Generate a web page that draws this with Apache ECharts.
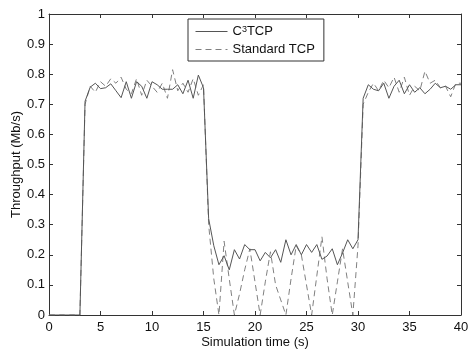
<!DOCTYPE html>
<html>
<head>
<meta charset="utf-8">
<script src="https://cdn.jsdelivr.net/npm/echarts@6/dist/echarts.min.js"></script>
<style>
html,body{margin:0;padding:0;background:#fff;}
#chart{width:474px;height:355px;}
</style>
</head>
<body>
<div id="chart"></div>
<script>
var times = [0,0.5,1,1.5,2,2.5,3,3.5,4,4.5,5,5.5,6,6.5,7,7.5,8,8.5,9,9.5,10,10.5,11,11.5,12,12.5,13,13.5,14,14.5,15,15.5,16,16.5,17,17.5,18,18.5,19,19.5,20,20.5,21,21.5,22,22.5,23,23.5,24,24.5,25,25.5,26,26.5,27,27.5,28,28.5,29,29.5,30,30.5,31,31.5,32,32.5,33,33.5,34,34.5,35,35.5,36,36.5,37,37.5,38,38.5,39,39.5,40];

var c3tcp = [0,0,0,0,0,0,0,0.71,0.757,0.77,0.752,0.755,0.768,0.745,0.722,0.775,0.72,0.775,0.76,0.72,0.775,0.765,0.75,0.75,0.75,0.765,0.735,0.78,0.72,0.797,0.755,0.32,0.23,0.167,0.197,0.15,0.217,0.186,0.234,0.217,0.217,0.18,0.208,0.19,0.217,0.175,0.25,0.2,0.234,0.2,0.234,0.208,0.234,0.185,0.196,0.22,0.167,0.206,0.25,0.22,0.25,0.72,0.765,0.75,0.745,0.77,0.72,0.76,0.78,0.735,0.765,0.74,0.755,0.735,0.75,0.77,0.755,0.76,0.75,0.765,0.765];

var standardTcp = [0,0,0,0,0,0,0,0.7,0.76,0.74,0.775,0.76,0.785,0.77,0.79,0.75,0.735,0.785,0.73,0.78,0.76,0.74,0.77,0.72,0.815,0.745,0.77,0.74,0.785,0.73,0.765,0.3,0.12,0,0.245,0.12,0,0.07,0.15,0.22,0.11,0,0.11,0.21,0.1,0.05,0,0.12,0.23,0.2,0.1,0,0.13,0.26,0.12,0,0.11,0.22,0.11,0,0.23,0.7,0.74,0.77,0.745,0.78,0.755,0.79,0.74,0.79,0.73,0.76,0.745,0.81,0.77,0.78,0.755,0.76,0.725,0.77,0.77];

var xTicks = [0,5,10,15,20,25,30,35,40];
var yTicks = [0,0.1,0.2,0.3,0.4,0.5,0.6,0.7,0.8,0.9,1];

function pairs(xs, ys){ return xs.map(function(x,i){ return [x, ys[i]]; }); }

var axisColor = '#333';
var fontFam = '"Liberation Sans", Arial, sans-serif';

var chart = echarts.init(document.getElementById('chart'), null, {renderer:'canvas'});
chart.setOption({
  animation:false,
  backgroundColor:'#fff',
  textStyle:{fontFamily:fontFam},
  grid:{left:49,right:13,top:14,bottom:40,containLabel:false,outerBoundsMode:'none'},
  legend:{
    show:true,
    orient:'vertical',
    left:188, top:19,
    backgroundColor:'#fff',
    borderColor:'#333', borderWidth:1,
    padding:[6,9,5,7],
    itemWidth:32, itemHeight:14, itemGap:5,
    itemStyle:{opacity:0},
    lineStyle:{width:1},
    textStyle:{fontSize:13,color:'#111',fontFamily:fontFam,
      rich:{sup:{fontSize:9,verticalAlign:'top',color:'#111',fontFamily:fontFam}}},
    formatter:function(name){ return name.replace('³','{sup|3}'); }
  },
  xAxis:[{
    type:'value', min:xTicks[0], max:xTicks[xTicks.length-1], interval:5,
    name:'Simulation time (s)', nameLocation:'middle', nameGap:21, nameMoveOverlap:false,
    nameTextStyle:{fontSize:13,color:'#111',fontFamily:fontFam},
    axisLine:{show:true,lineStyle:{color:axisColor,width:1}},
    axisTick:{show:true,inside:true,length:4,lineStyle:{color:axisColor}},
    axisLabel:{fontSize:13,color:'#111',margin:6,fontFamily:fontFam},
    splitLine:{show:false}
  },{
    type:'value', position:'top', min:0, max:40, interval:5,
    axisLine:{show:true,onZero:false,lineStyle:{color:axisColor,width:1}},
    axisTick:{show:true,inside:true,length:4,lineStyle:{color:axisColor}},
    axisLabel:{show:false}, splitLine:{show:false}
  }],
  yAxis:[{
    type:'value', min:yTicks[0], max:yTicks[yTicks.length-1], interval:0.1,
    name:'Throughput (Mb/s)', nameLocation:'middle', nameGap:26, nameMoveOverlap:false,
    nameTextStyle:{fontSize:13,color:'#111',fontFamily:fontFam},
    axisLine:{show:true,lineStyle:{color:axisColor,width:1}},
    axisTick:{show:true,inside:true,length:4,lineStyle:{color:axisColor}},
    axisLabel:{fontSize:13,color:'#111',margin:4,fontFamily:fontFam,
      formatter:function(v){ return String(Math.round(v*10)/10); }},
    splitLine:{show:false}
  },{
    type:'value', position:'right', min:0, max:1, interval:0.1,
    axisLine:{show:true,onZero:false,lineStyle:{color:axisColor,width:1}},
    axisTick:{show:true,inside:true,length:4,lineStyle:{color:axisColor}},
    axisLabel:{show:false}, splitLine:{show:false}
  }],
  series:[{
    name:'C³TCP', type:'line', xAxisIndex:0, yAxisIndex:0,
    data:pairs(times,c3tcp), symbol:'none', z:3,
    lineStyle:{color:'#555',width:1,type:'solid'}, itemStyle:{color:'#555'}
  },{
    name:'Standard TCP', type:'line', xAxisIndex:0, yAxisIndex:0,
    data:pairs(times,standardTcp), symbol:'none', z:2,
    lineStyle:{color:'#808080',width:1,type:[6,4]}, itemStyle:{color:'#808080'}
  }]
});
</script>
</body>
</html>
